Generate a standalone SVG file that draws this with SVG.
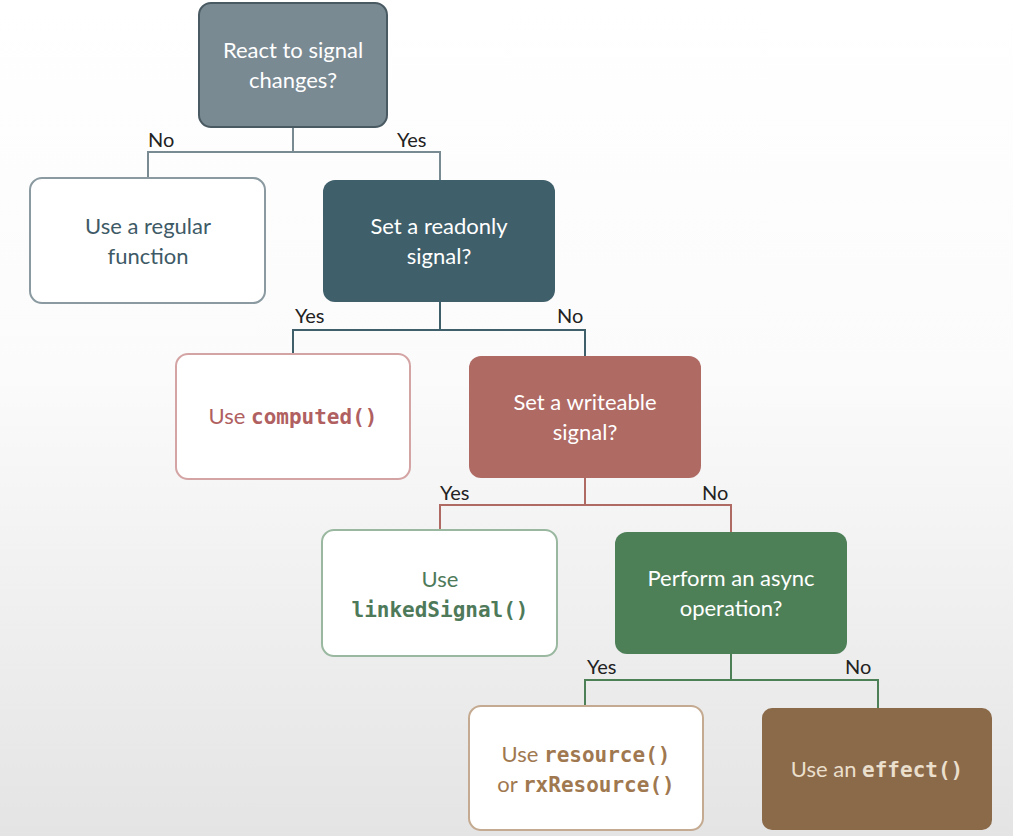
<svg xmlns="http://www.w3.org/2000/svg" width="1013" height="836" viewBox="0 0 1013 836">
<defs>
<linearGradient id="bg" x1="0" y1="0" x2="0" y2="1">
<stop offset="0" stop-color="#ffffff"/><stop offset="0.45" stop-color="#fbfbfb"/><stop offset="1" stop-color="#e4e4e4"/>
</linearGradient>
</defs>
<style>
text{font-family:Lato,"Open Sans","Liberation Sans",sans-serif;font-size:22px;text-anchor:middle}
.code{font-family:"DejaVu Sans Mono","Liberation Mono",monospace;font-weight:bold;font-size:21px}
.lbl{font-size:20px;fill:#222;text-anchor:start}
.c{fill:none;stroke-width:2}
</style>
<rect width="1013" height="836" fill="url(#bg)"/>
<g id="connectors">
<path class="c" stroke="#7a8a93" d="M293 127V152M148 178V152H440V180"/>
<path class="c" stroke="#3f5f6b" d="M440 302V330M293 354V330H585V356"/>
<path class="c" stroke="#b06a64" d="M585 478V505M440 530V505H731V532"/>
<path class="c" stroke="#4e8058" d="M731 654V680M585 706V680H878V708"/>
<text class="lbl" x="148" y="147">No</text>
<text class="lbl" x="397" y="147">Yes</text>
<text class="lbl" x="295" y="323">Yes</text>
<text class="lbl" x="557" y="323">No</text>
<text class="lbl" x="440" y="500">Yes</text>
<text class="lbl" x="702" y="500">No</text>
<text class="lbl" x="587" y="674">Yes</text>
<text class="lbl" x="845" y="674">No</text>
</g>
<g id="n1"><rect x="199" y="3" width="188" height="124" rx="12" fill="#7a8a93" stroke="#4a5a63" stroke-width="2"/>
<text x="293" y="58" fill="#fff">React to signal</text><text x="293" y="88" fill="#fff">changes?</text></g>
<g id="n2"><rect x="30" y="178" width="235" height="125" rx="12" fill="#fff" stroke="#8a9aa0" stroke-width="2"/>
<text x="148" y="234" fill="#3e5a66">Use a regular</text><text x="148" y="264" fill="#3e5a66">function</text></g>
<g id="n3"><rect x="323" y="180" width="232" height="122" rx="12" fill="#3f5f6b"/>
<text x="439" y="234" fill="#fff">Set a readonly</text><text x="439" y="264" fill="#fff">signal?</text></g>
<g id="n4"><rect x="176" y="354" width="234" height="125" rx="12" fill="#fff" stroke="#d4a4a4" stroke-width="2"/>
<text x="293" y="424" fill="#b06060">Use <tspan class="code">computed()</tspan></text></g>
<g id="n5"><rect x="469" y="356" width="232" height="122" rx="12" fill="#b06a64"/>
<text x="585" y="410" fill="#fff">Set a writeable</text><text x="585" y="440" fill="#fff">signal?</text></g>
<g id="n6"><rect x="322" y="530" width="235" height="126" rx="12" fill="#fff" stroke="#9ab8a0" stroke-width="2"/>
<text x="440" y="587" fill="#4e7a5a">Use</text><text x="440" y="617" class="code" fill="#4e7a5a">linkedSignal()</text></g>
<g id="n7"><rect x="615" y="532" width="232" height="122" rx="12" fill="#4e8058"/>
<text x="731" y="586" fill="#fff">Perform an async</text><text x="731" y="616" fill="#fff">operation?</text></g>
<g id="n8"><rect x="469" y="706" width="234" height="124" rx="12" fill="#fff" stroke="#c4aa90" stroke-width="2"/>
<text x="586" y="762" fill="#a07850">Use <tspan class="code">resource()</tspan></text><text x="586" y="792" fill="#a07850">or <tspan class="code">rxResource()</tspan></text></g>
<g id="n9"><rect x="762" y="708" width="230" height="122" rx="10" fill="#8b6a4a"/>
<text x="877" y="777" fill="#eadfcc">Use an <tspan class="code">effect()</tspan></text></g>
</svg>
